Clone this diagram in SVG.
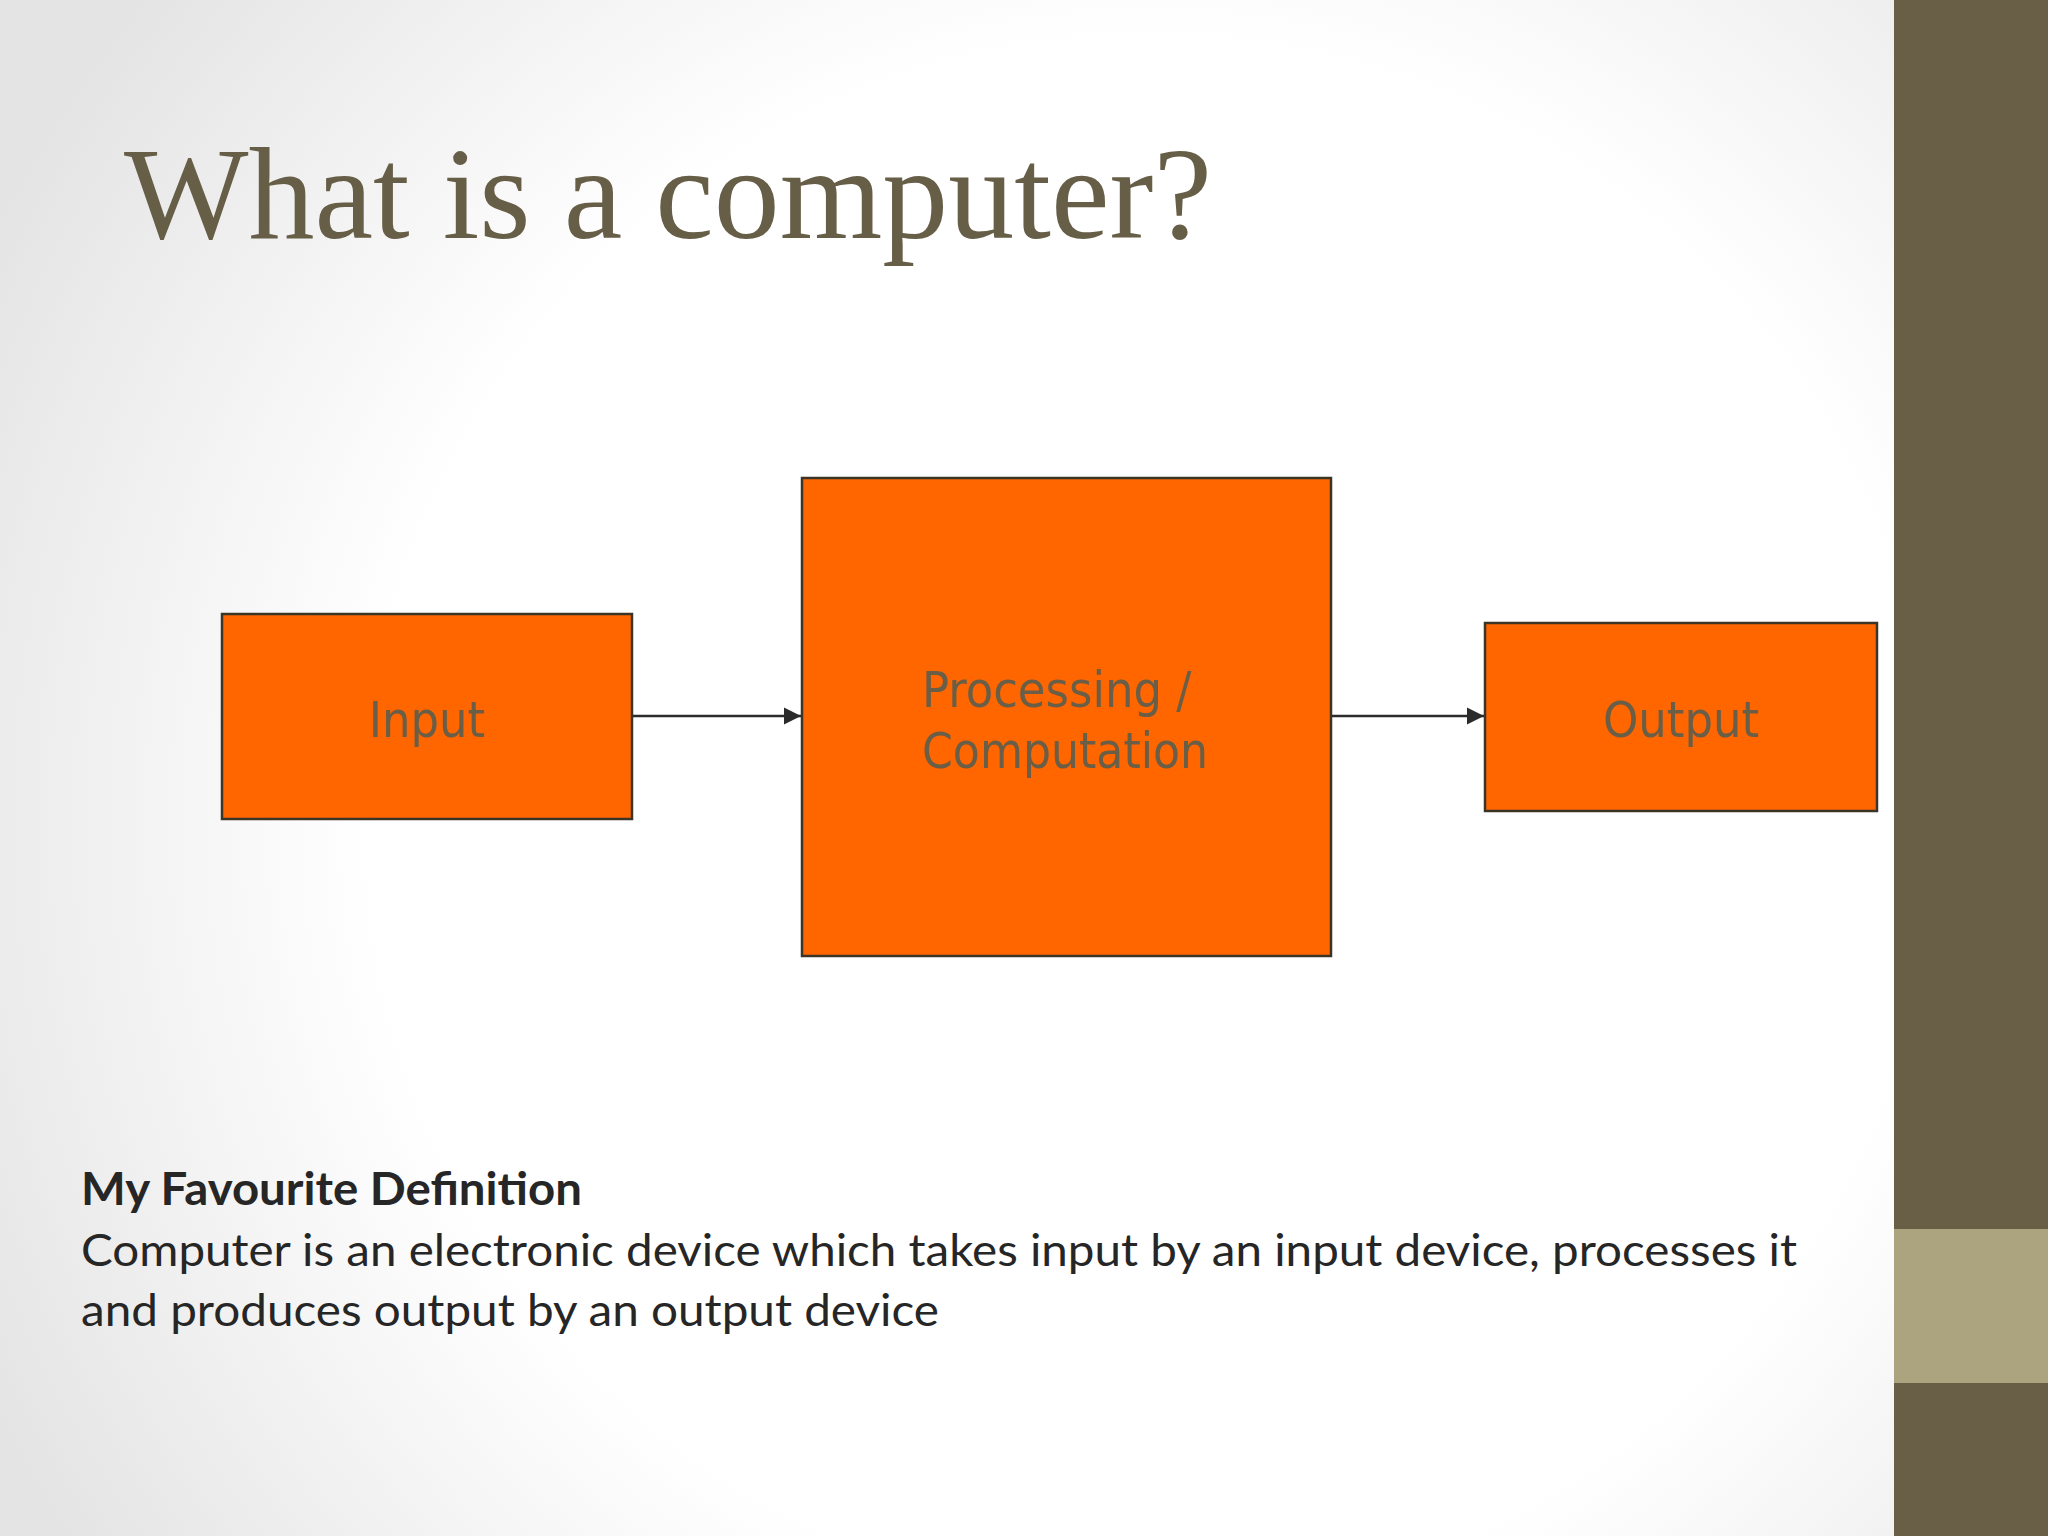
<svg xmlns="http://www.w3.org/2000/svg" width="2048" height="1536" viewBox="0 0 2048 1536">
<defs>
<radialGradient id="bg" cx="1150" cy="820" r="1300" gradientUnits="userSpaceOnUse">
<stop offset="0" stop-color="#ffffff"/>
<stop offset="0.6" stop-color="#ffffff"/>
<stop offset="1" stop-color="#e4e4e4"/>
</radialGradient>
<marker id="arr" viewBox="0 0 10 10" refX="10" refY="5" markerWidth="7" markerHeight="7" markerUnits="strokeWidth" orient="auto">
<path d="M0,0 L10,5 L0,10 z" fill="#2b2b2b"/>
</marker>
<style>
.box{fill:#ff6600;stroke:#3a3526;stroke-width:2.5}
.lbl{font-family:"DejaVu Sans Condensed","DejaVu Sans",sans-serif;font-size:50px;fill:#6b5e47}
.body{font-family:Lato,"Liberation Sans",sans-serif;font-size:45px;fill:#262626}
.conn{stroke:#2b2b2b;stroke-width:2.5;fill:none}
</style>
</defs>
<rect x="0" y="0" width="2048" height="1536" fill="url(#bg)"/>
<rect x="1894" y="0" width="154" height="1536" fill="#695e46"/>
<rect x="1894" y="1229" width="154" height="154" fill="#aba47f"/>
<text x="124" y="238" font-family="'Liberation Serif',serif" font-size="132" fill="#675e47" textLength="1088" lengthAdjust="spacingAndGlyphs">What is a computer?</text>
<g id="connectors">
<line class="conn" x1="632" y1="716" x2="801" y2="716" marker-end="url(#arr)"/>
<line class="conn" x1="1331" y1="716" x2="1484" y2="716" marker-end="url(#arr)"/>
</g>
<g id="node-input">
<rect class="box" x="222" y="614" width="410" height="205"/>
<text class="lbl" x="427" y="737" text-anchor="middle">Input</text>
</g>
<g id="node-processing">
<rect class="box" x="802" y="478" width="529" height="478"/>
<text class="lbl" x="922" y="707">Processing /</text>
<text class="lbl" x="922" y="768" textLength="286" lengthAdjust="spacingAndGlyphs">Computation</text>
</g>
<g id="node-output">
<rect class="box" x="1485" y="623" width="392" height="188"/>
<text class="lbl" x="1681" y="737" text-anchor="middle">Output</text>
</g>
<text class="body" x="81" y="1205" font-weight="bold" textLength="501" lengthAdjust="spacingAndGlyphs">My Favourite Definition</text>
<text class="body" x="81" y="1266" textLength="1716" lengthAdjust="spacingAndGlyphs">Computer is an electronic device which takes input by an input device, processes it</text>
<text class="body" x="81" y="1326" textLength="858" lengthAdjust="spacingAndGlyphs">and produces output by an output device</text>
</svg>
